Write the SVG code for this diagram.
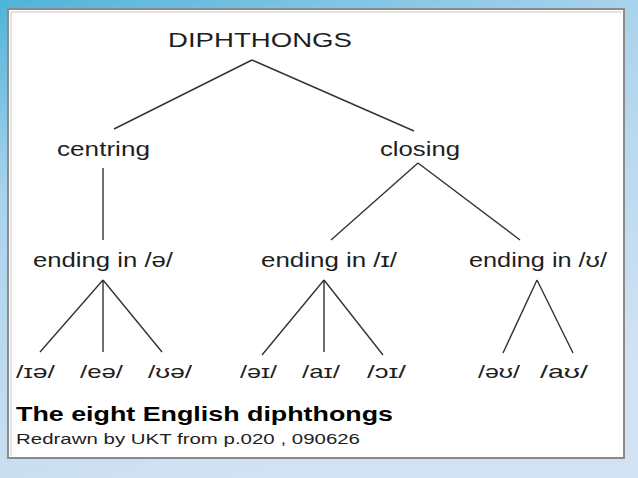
<svg xmlns="http://www.w3.org/2000/svg" width="638" height="478" viewBox="0 0 638 478">
<defs>
<linearGradient id="bg" x1="0" y1="0" x2="0.4" y2="1">
<stop offset="0" stop-color="#4fb3d9"/>
<stop offset="0.35" stop-color="#a9d3ec"/>
<stop offset="1" stop-color="#d3e2f2"/>
</linearGradient>
<style>
.t{font-family:"Liberation Sans","DejaVu Sans",sans-serif;fill:#1e1e1e;font-size:20px}
.leaf{font-size:19px}
.cap{font-weight:bold;font-size:21px;fill:#000}
.sub{font-size:14px}
.ln{stroke:#333;stroke-width:1.4;fill:none}
</style>
</defs>
<rect width="638" height="478" fill="url(#bg)"/>
<rect x="8" y="9" width="616" height="449" fill="#fff" stroke="#8a8a8a" stroke-width="2"/>
<path d="M11 456V12H622" fill="none" stroke="#c8c8c8" stroke-width="1"/>
<g id="connectors">
<path class="ln" d="M252 60L114 129M252 60L414 131"/>
<path class="ln" d="M103 168V240"/>
<path class="ln" d="M418 163L331 240M418 163L520 240"/>
<path class="ln" d="M103 280L40 352M103 280V352M103 280L162 352"/>
<path class="ln" d="M324 280L262 355M324 280V352M324 280L383 355"/>
<path class="ln" d="M537 280L503 353M537 280L573 353"/>
</g>
<g id="root"><text class="t" x="168" y="47" font-size="21" textLength="184" lengthAdjust="spacingAndGlyphs">DIPHTHONGS</text></g>
<g id="centring"><text class="t" x="57" y="156" textLength="93" lengthAdjust="spacingAndGlyphs">centring</text></g>
<g id="closing"><text class="t" x="380" y="156" textLength="80" lengthAdjust="spacingAndGlyphs">closing</text></g>
<g id="end-schwa"><text class="t" x="33" y="267" textLength="140" lengthAdjust="spacingAndGlyphs">ending in /ə/</text></g>
<g id="end-i"><text class="t" x="261" y="267" textLength="136" lengthAdjust="spacingAndGlyphs">ending in /ɪ/</text></g>
<g id="end-u"><text class="t" x="469" y="267" textLength="138" lengthAdjust="spacingAndGlyphs">ending in /ʊ/</text></g>
<g id="leaf-ie"><text class="t leaf" x="16" y="378" textLength="39" lengthAdjust="spacingAndGlyphs">/ɪə/</text></g>
<g id="leaf-ee"><text class="t leaf" x="80" y="378" textLength="43" lengthAdjust="spacingAndGlyphs">/eə/</text></g>
<g id="leaf-ue"><text class="t leaf" x="148" y="378" textLength="44" lengthAdjust="spacingAndGlyphs">/ʊə/</text></g>
<g id="leaf-ei"><text class="t leaf" x="240" y="378" textLength="37" lengthAdjust="spacingAndGlyphs">/əɪ/</text></g>
<g id="leaf-ai"><text class="t leaf" x="302" y="378" textLength="38" lengthAdjust="spacingAndGlyphs">/aɪ/</text></g>
<g id="leaf-oi"><text class="t leaf" x="367" y="378" textLength="39" lengthAdjust="spacingAndGlyphs">/ɔɪ/</text></g>
<g id="leaf-eu"><text class="t leaf" x="478" y="378" textLength="42" lengthAdjust="spacingAndGlyphs">/əʊ/</text></g>
<g id="leaf-au"><text class="t leaf" x="540" y="378" textLength="48" lengthAdjust="spacingAndGlyphs">/aʊ/</text></g>
<text class="t cap" x="16" y="421" textLength="377" lengthAdjust="spacingAndGlyphs">The eight English diphthongs</text>
<text class="t sub" x="16" y="444" textLength="344" lengthAdjust="spacingAndGlyphs">Redrawn by UKT from p.020 , 090626</text>
</svg>
